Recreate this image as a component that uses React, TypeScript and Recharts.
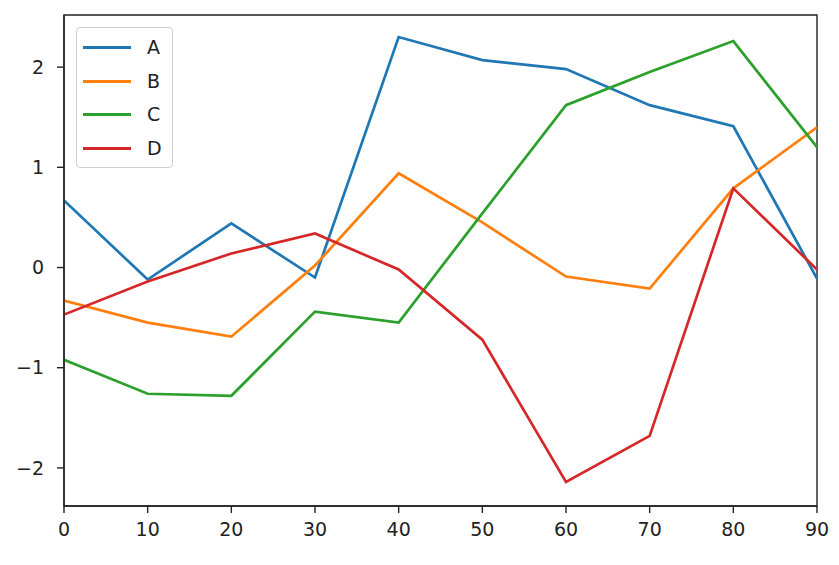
import { LineChart, Line, XAxis, YAxis, ReferenceArea } from "recharts";

const xValues = [0, 10, 20, 30, 40, 50, 60, 70, 80, 90];
const seriesA = [0.67, -0.12, 0.44, -0.1, 2.3, 2.07, 1.98, 1.62, 1.41, -0.11];
const seriesB = [-0.33, -0.55, -0.69, 0.02, 0.94, 0.45, -0.09, -0.21, 0.79, 1.4];
const seriesC = [-0.92, -1.26, -1.28, -0.44, -0.55, 0.54, 1.62, 1.95, 2.26, 1.2];
const seriesD = [-0.47, -0.14, 0.14, 0.34, -0.02, -0.72, -2.14, -1.68, 0.79, -0.02];
const xTicks = [0, 10, 20, 30, 40, 50, 60, 70, 80, 90];
const yTicks = [-2, -1, 0, 1, 2];

const SERIES = [
  { key: "A", color: "#1f77b4" },
  { key: "B", color: "#ff7f0e" },
  { key: "C", color: "#2ca02c" },
  { key: "D", color: "#d62728" },
];

const data = xValues.map((x, i) => ({
  x,
  A: seriesA[i],
  B: seriesB[i],
  C: seriesC[i],
  D: seriesD[i],
}));

const FONT = "'DejaVu Sans', sans-serif";
const Y_MIN = -2.38;
const Y_MAX = 2.52;

// matplotlib-style legend box in the upper left corner
function LegendBox() {
  return (
    <div
      style={{
        position: "absolute",
        left: 68,
        top: 19,
        width: 97,
        height: 141,
        boxSizing: "border-box",
        border: "1px solid #d0d0d0",
        borderRadius: 4,
        background: "rgba(255,255,255,0.8)",
        fontFamily: FONT,
        fontSize: 19,
        color: "#222",
      }}
    >
      {SERIES.map((s, i) => (
        <div key={s.key} style={{ position: "absolute", left: 0, top: 19 + i * 33.6 - 12, height: 24, width: 97 }}>
          <div style={{ position: "absolute", left: 6, top: 11, width: 48, height: 3, background: s.color }} />
          <span style={{ position: "absolute", left: 70, top: 0, lineHeight: "24px" }}>{s.key}</span>
        </div>
      ))}
    </div>
  );
}

const fmt = (v: number) => String(v).replace("-", "\u2212");

export default function App() {
  return (
    <div style={{ position: "relative", width: 831, height: 557 }}>
      <LineChart width={831} height={557} data={data} margin={{ top: 7, right: 22, bottom: 29, left: 16 }}>
        <ReferenceArea x1={0} x2={90} y1={Y_MIN} y2={Y_MAX} fill="none" stroke="#222" strokeWidth={1.4} ifOverflow="visible" />
        <XAxis
          dataKey="x"
          type="number"
          domain={[0, 90]}
          ticks={xTicks}
          height={30}
          tickSize={7}
          tickMargin={10}
          tickLine={{ stroke: "#222", strokeWidth: 1.4 }}
          axisLine={{ stroke: "#222", strokeWidth: 1.4 }}
          tick={{ fill: "#222", fontSize: 19, fontFamily: FONT }}
          interval={0}
          allowDataOverflow
        />
        <YAxis
          type="number"
          domain={[Y_MIN, Y_MAX]}
          ticks={yTicks}
          width={40}
          tickSize={7}
          tickMargin={13}
          tickFormatter={fmt}
          tickLine={{ stroke: "#222", strokeWidth: 1.4 }}
          axisLine={{ stroke: "#222", strokeWidth: 1.4 }}
          tick={{ fill: "#222", fontSize: 19, fontFamily: FONT }}
          interval={0}
          allowDataOverflow
        />
        {SERIES.map((s) => (
          <Line
            key={s.key}
            dataKey={s.key}
            type="linear"
            stroke={s.color}
            strokeWidth={2.7}
            dot={false}
            activeDot={false}
            isAnimationActive={false}
          />
        ))}
      </LineChart>
      <LegendBox />
    </div>
  );
}
